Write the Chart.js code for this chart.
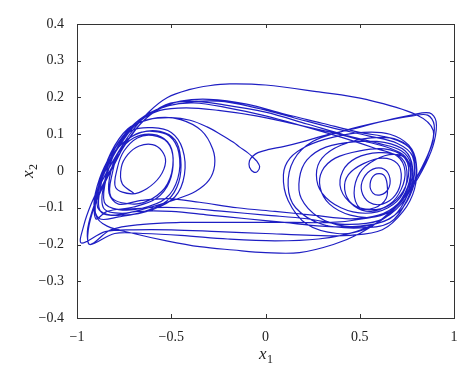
<!DOCTYPE html>
<html>
<head>
<meta charset="utf-8">
<script src="https://cdn.jsdelivr.net/npm/chart.js@4.4.1/dist/chart.umd.min.js"></script>
<style>
  html, body { margin: 0; padding: 0; background: #fff; }
  #chart { display: block; }
</style>
</head>
<body>
<canvas id="chart" width="474" height="380"></canvas>
<script>
// tick values
const xTicks = [-1, -0.5, 0, 0.5, 1];
const yTicks = [-0.4, -0.3, -0.2, -0.1, 0, 0.1, 0.2, 0.3, 0.4];

// trajectory, in time order, piece by piece
const leftCore = [
  [-0.70,-0.06],[-0.76,-0.035],[-0.765,0.01],[-0.73,0.045],[-0.67,0.068],[-0.60,0.072],[-0.55,0.055],[-0.53,0.025],
  [-0.56,-0.015],[-0.63,-0.048],[-0.71,-0.062],
  [-0.795,-0.045],[-0.785,0.01],[-0.75,0.055],[-0.68,0.09],[-0.60,0.097],[-0.52,0.078],[-0.49,0.03],[-0.52,-0.035],
  [-0.60,-0.075],[-0.70,-0.09],
  [-0.82,-0.07],[-0.81,0.0],[-0.77,0.06],[-0.69,0.1],[-0.60,0.108],[-0.51,0.095],[-0.46,0.05],[-0.465,-0.02],
  [-0.53,-0.075],[-0.66,-0.102],[-0.78,-0.105],
  [-0.855,-0.085],[-0.84,-0.01],[-0.78,0.07],[-0.69,0.125],[-0.57,0.145],[-0.45,0.14],[-0.34,0.11],[-0.28,0.06],
  [-0.27,0.015],[-0.30,-0.025],[-0.37,-0.055],[-0.48,-0.078],[-0.62,-0.1],[-0.76,-0.115],
  [-0.86,-0.1],[-0.85,-0.02],[-0.80,0.06],[-0.71,0.11],[-0.60,0.118],[-0.50,0.105],[-0.44,0.06],[-0.43,-0.01],
  [-0.48,-0.07],[-0.60,-0.105],[-0.75,-0.12],
  [-0.875,-0.11],[-0.87,-0.03],[-0.82,0.05],[-0.73,0.115],[-0.62,0.14],[-0.50,0.145],[-0.40,0.138],[-0.31,0.12],
  [-0.24,0.1]
];

const originLoop = [
  [-0.17,0.078],[-0.137,0.065],[-0.095,0.05],[-0.068,0.038],[-0.045,0.026],[-0.031,0.012],[-0.042,-0.001],[-0.062,-0.003],
  [-0.085,0.01],[-0.085,0.028],[-0.068,0.040],[-0.04,0.05],[0.012,0.058],[0.10,0.067],[0.20,0.08],[0.30,0.095],
  [0.45,0.113],[0.62,0.135],[0.78,0.153],[0.87,0.158],[0.905,0.135],[0.895,0.08],[0.85,0.02],[0.77,-0.05],[0.66,-0.115],
  [0.52,-0.16]
];

const rightCore = [
  [0.38,-0.17],[0.22,-0.145],[0.12,-0.08],[0.095,-0.01],[0.13,0.035],[0.22,0.068],[0.36,0.092],[0.52,0.105],[0.66,0.1],
  [0.76,0.07],[0.80,0.02],[0.78,-0.05],[0.71,-0.11],[0.58,-0.145],[0.42,-0.15],[0.28,-0.125],[0.19,-0.075],[0.18,-0.02],
  [0.22,0.03],[0.32,0.065],[0.48,0.08],[0.63,0.078],[0.74,0.055],[0.78,0.01],[0.76,-0.05],[0.69,-0.1],[0.58,-0.125],
  [0.45,-0.12],[0.34,-0.09],[0.29,-0.045],[0.30,0.0],[0.37,0.035],[0.50,0.055],[0.63,0.06],[0.73,0.04],[0.76,0.0],
  [0.73,-0.055],[0.65,-0.095],[0.55,-0.105],[0.46,-0.09],[0.42,-0.05],[0.44,-0.01],[0.52,0.02],[0.62,0.035],[0.70,0.02],
  [0.72,-0.02],[0.69,-0.065],[0.62,-0.09],[0.55,-0.085],[0.51,-0.055],[0.52,-0.02],[0.57,0.005],[0.63,0.005],[0.66,-0.02],
  [0.65,-0.05],[0.61,-0.065],[0.57,-0.06],[0.555,-0.035],[0.58,-0.01],[0.625,-0.01],[0.645,-0.035],
  [0.64,-0.075],[0.58,-0.10],[0.50,-0.10],[0.47,-0.06],[0.50,-0.005],[0.58,0.03],[0.68,0.045],[0.75,0.03],[0.77,-0.02],
  [0.74,-0.08],[0.66,-0.13],[0.50,-0.15]
];

const crossOne = [
  [0.30,-0.15],[0.10,-0.14],[-0.10,-0.13],[-0.30,-0.12],[-0.50,-0.11],[-0.68,-0.11],[-0.82,-0.12],[-0.89,-0.1],
  [-0.88,-0.04],[-0.83,0.02],[-0.76,0.08],[-0.67,0.135],[-0.56,0.165],[-0.42,0.172],[-0.25,0.165],[-0.05,0.15],
  [0.15,0.128],[0.35,0.105],[0.52,0.082],[0.66,0.062],[0.74,0.04],[0.77,0.0],[0.74,-0.06],[0.66,-0.11],[0.52,-0.13]
];

const crossTwo = [
  [0.35,-0.14],[0.15,-0.14],[-0.05,-0.14],[-0.25,-0.14],[-0.45,-0.14],[-0.65,-0.145],[-0.82,-0.16],[-0.93,-0.2],
  [-0.945,-0.165],[-0.92,-0.11],[-0.87,-0.045],[-0.81,0.015],[-0.74,0.075],[-0.66,0.13],[-0.56,0.17],[-0.45,0.19],
  [-0.30,0.195],[-0.10,0.182],[0.10,0.155],[0.30,0.13],[0.50,0.105],[0.66,0.09],[0.76,0.065],[0.80,0.02],[0.79,-0.05],
  [0.73,-0.11],[0.62,-0.16],[0.45,-0.175]
];

const crossOuter = [
  [0.25,-0.175],[0.0,-0.17],[-0.25,-0.165],[-0.50,-0.16],[-0.70,-0.16],[-0.85,-0.165],[-0.977,-0.196],[-0.965,-0.15],
  [-0.925,-0.09],[-0.87,-0.03],[-0.80,0.035],[-0.72,0.1],[-0.62,0.16],[-0.52,0.2],[-0.40,0.222],[-0.30,0.232],
  [-0.19,0.237],[0.0,0.234],[0.27,0.216],[0.54,0.194],[0.80,0.153],[0.89,0.11],[0.86,0.04],[0.80,-0.02],[0.72,-0.08],
  [0.62,-0.13],[0.50,-0.17],[0.36,-0.2],[0.18,-0.222],[0.0,-0.222],[-0.17,-0.215],[-0.35,-0.206],[-0.525,-0.19],
  [-0.70,-0.17],[-0.84,-0.15]
];

const leftAgain = [
  [-0.9,-0.12],[-0.89,-0.05],[-0.84,0.02],[-0.76,0.075],[-0.66,0.105],[-0.56,0.108],[-0.48,0.085],[-0.45,0.035],
  [-0.46,-0.03],[-0.52,-0.08],[-0.64,-0.11],[-0.78,-0.125],[-0.88,-0.13],[-0.91,-0.09],[-0.88,-0.02],[-0.82,0.045],
  [-0.74,0.105],[-0.64,0.15],[-0.52,0.177],[-0.38,0.185],[-0.20,0.172],[0.0,0.15],[0.2,0.122],[0.40,0.092],[0.58,0.062],
  [0.70,0.04],[0.74,0.0],[0.72,-0.05],[0.66,-0.09],[0.56,-0.11],[0.47,-0.095]
];

const rightAgain = [
  [0.40,-0.05],[0.41,0.0],[0.48,0.035],[0.60,0.05],[0.71,0.04],[0.75,0.0],[0.73,-0.06],[0.65,-0.1],[0.53,-0.115],
  [0.40,-0.1],[0.30,-0.06],[0.27,-0.01],[0.30,0.035],[0.40,0.07],[0.56,0.09],[0.70,0.085],[0.78,0.05],[0.79,-0.01],
  [0.75,-0.08],[0.66,-0.14],[0.50,-0.155],[0.30,-0.145],[0.16,-0.1],[0.12,-0.04],[0.15,0.03],[0.25,0.08],[0.42,0.11],
  [0.62,0.135],[0.78,0.15],[0.86,0.152],[0.895,0.125],[0.88,0.07],[0.83,0.01],[0.75,-0.06],[0.64,-0.125],[0.48,-0.165]
];

const crossThree = [
  [0.28,-0.185],[0.05,-0.19],[-0.20,-0.185],[-0.45,-0.175],[-0.65,-0.17],[-0.80,-0.17],[-0.933,-0.2],[-0.94,-0.16],
  [-0.91,-0.1],[-0.86,-0.04],[-0.80,0.02],[-0.73,0.085],[-0.64,0.14],[-0.53,0.18],[-0.40,0.19],[-0.22,0.18],[0.0,0.16],
  [0.22,0.128],[0.42,0.098],[0.60,0.075],[0.72,0.055],[0.77,0.02],[0.76,-0.04],[0.70,-0.09],[0.60,-0.12],[0.45,-0.13],
  [0.25,-0.12],[0.05,-0.11],[-0.15,-0.1],[-0.35,-0.085],[-0.52,-0.075],[-0.66,-0.08],[-0.78,-0.09],[-0.83,-0.06],
  [-0.82,0.0],[-0.78,0.05],[-0.70,0.09],[-0.60,0.1],[-0.52,0.08],[-0.49,0.035],[-0.51,-0.03],[-0.58,-0.075],
  [-0.70,-0.098],[-0.84,-0.11],[-0.90,-0.13],[-0.90,-0.07],[-0.855,0.0],[-0.79,0.06],[-0.70,0.12],[-0.58,0.165],
  [-0.44,0.185],[-0.25,0.19],[-0.05,0.172],[0.15,0.145],[0.35,0.118],[0.55,0.095],[0.70,0.075],[0.78,0.04],[0.78,-0.03],
  [0.72,-0.09],[0.60,-0.135],[0.42,-0.145],[0.22,-0.13],[0.0,-0.12],[-0.22,-0.11],[-0.45,-0.1],[-0.62,-0.1],[-0.76,-0.105]
];

const points = [].concat(leftCore, originLoop, rightCore, crossOne, crossTwo, crossOuter, leftAgain, rightAgain, crossThree);

const fmt = (v) => {
  const r = Math.round(v * 10) / 10;
  return r === 0 ? '0' : String(r).replace('-', '\u2212');
};

// box, inward tick marks and the subscripted axis names
const frame = {
  id: 'frame',
  afterDraw(chart) {
    const { ctx, chartArea: a, scales } = chart;
    ctx.save();
    ctx.strokeStyle = '#333';
    ctx.lineWidth = 1;
    ctx.strokeRect(Math.round(a.left) + 0.5, Math.round(a.top) + 0.5, Math.round(a.right - a.left), Math.round(a.bottom - a.top));
    ctx.beginPath();
    xTicks.forEach((v) => {
      const px = Math.round(scales.x.getPixelForValue(v)) + 0.5;
      ctx.moveTo(px, a.bottom); ctx.lineTo(px, a.bottom - 4);
      ctx.moveTo(px, a.top); ctx.lineTo(px, a.top + 4);
    });
    yTicks.forEach((v) => {
      const py = Math.round(scales.y.getPixelForValue(v)) + 0.5;
      ctx.moveTo(a.left, py); ctx.lineTo(a.left + 4, py);
      ctx.moveTo(a.right, py); ctx.lineTo(a.right - 4, py);
    });
    ctx.stroke();

    ctx.fillStyle = '#222';
    ctx.textBaseline = 'alphabetic';
    ctx.textAlign = 'left';
    // x1 under the x axis
    ctx.font = 'italic 17px "Liberation Serif"';
    ctx.fillText('x', 259, 359);
    ctx.font = '12px "Liberation Serif"';
    ctx.fillText('1', 267, 363);
    // x2 beside the y axis
    ctx.translate(33, 178);
    ctx.rotate(-Math.PI / 2);
    ctx.font = 'italic 17px "Liberation Serif"';
    ctx.fillText('x', 0, 0);
    ctx.font = '12px "Liberation Serif"';
    ctx.fillText('2', 8, 4);
    ctx.restore();
  }
};

new Chart(document.getElementById('chart'), {
  type: 'scatter',
  data: {
    datasets: [{
      data: points.map(([x, y]) => ({ x, y })),
      showLine: true,
      borderColor: 'rgb(30, 30, 195)',
      borderWidth: 1.2,
      pointRadius: 0,
      tension: 0.35,
      fill: false
    }]
  },
  options: {
    responsive: false,
    devicePixelRatio: 1,
    animation: false,
    layout: { padding: { top: 24, right: 20, left: 0, bottom: 0 } },
    plugins: { legend: { display: false }, tooltip: { enabled: false } },
    scales: {
      x: {
        type: 'linear',
        min: -1,
        max: 1,
        afterFit: (s) => { s.height = 62; },
        afterBuildTicks: (s) => { s.ticks = xTicks.map((v) => ({ value: v })); },
        grid: { display: false },
        border: { display: false },
        ticks: {
          padding: 3,
          color: '#222',
          font: { family: 'Liberation Serif', size: 14 },
          maxRotation: 0,
          callback: (v) => fmt(v)
        }
      },
      y: {
        type: 'linear',
        min: -0.4,
        max: 0.4,
        afterFit: (s) => { s.width = 77; },
        afterBuildTicks: (s) => { s.ticks = yTicks.map((v) => ({ value: v })); },
        grid: { display: false },
        border: { display: false },
        ticks: {
          padding: 5,
          color: '#222',
          font: { family: 'Liberation Serif', size: 14 },
          callback: (v) => fmt(v)
        }
      }
    }
  },
  plugins: [frame]
});
</script>
</body>
</html>
